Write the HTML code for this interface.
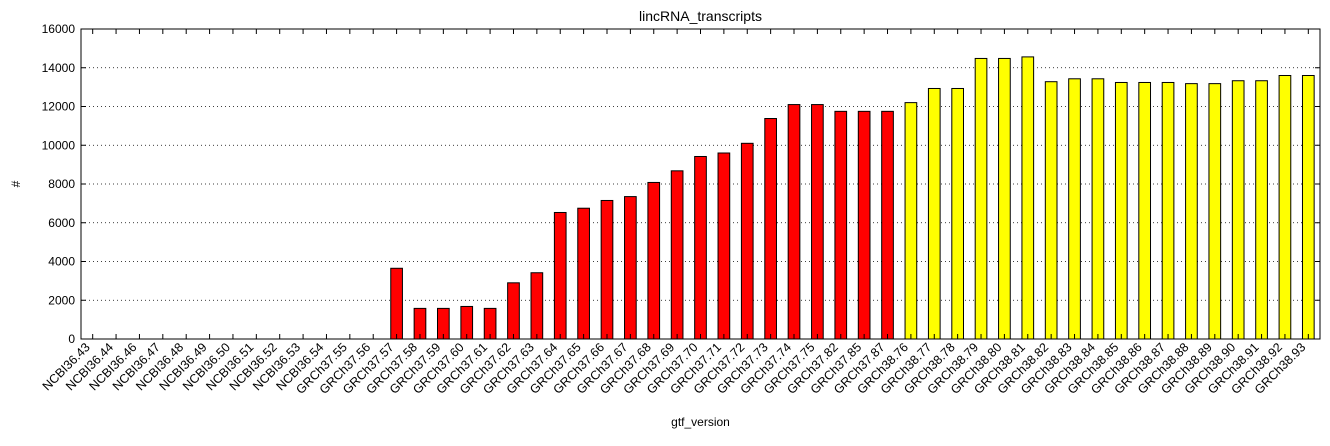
<!DOCTYPE html>
<html><head><meta charset="utf-8"><style>
body{margin:0;background:#fff;}
svg text{font-family:"Liberation Sans",sans-serif;}
</style></head><body>
<svg id="chart" width="1330" height="441" xmlns="http://www.w3.org/2000/svg"></svg>
<script>
const categories=["NCBI36.43","NCBI36.44","NCBI36.46","NCBI36.47","NCBI36.48","NCBI36.49","NCBI36.50","NCBI36.51","NCBI36.52","NCBI36.53","NCBI36.54","GRCh37.55","GRCh37.56","GRCh37.57","GRCh37.58","GRCh37.59","GRCh37.60","GRCh37.61","GRCh37.62","GRCh37.63","GRCh37.64","GRCh37.65","GRCh37.66","GRCh37.67","GRCh37.68","GRCh37.69","GRCh37.70","GRCh37.71","GRCh37.72","GRCh37.73","GRCh37.74","GRCh37.75","GRCh37.82","GRCh37.85","GRCh37.87","GRCh38.76","GRCh38.77","GRCh38.78","GRCh38.79","GRCh38.80","GRCh38.81","GRCh38.82","GRCh38.83","GRCh38.84","GRCh38.85","GRCh38.86","GRCh38.87","GRCh38.88","GRCh38.89","GRCh38.90","GRCh38.91","GRCh38.92","GRCh38.93"];
const values=[0,0,0,0,0,0,0,0,0,0,0,0,0,3650,1580,1580,1680,1580,2900,3420,6530,6750,7150,7350,8080,8680,9420,9600,10100,11380,12100,12100,11750,11750,11750,12200,12930,12930,14480,14480,14560,13280,13430,13430,13240,13240,13240,13180,13180,13330,13330,13600,13600];
const yTicks=[0,2000,4000,6000,8000,10000,12000,14000,16000];
const NS="http://www.w3.org/2000/svg";
const svg=document.getElementById('chart');
const L=81,R=1320,T=29,B=339,YMAX=16000;
const y=v=>B-(v/YMAX)*(B-T);
const step=(R-L)/categories.length;
const x=i=>L+step*(i+0.5);
function mk(tag,attrs,parent){const e=document.createElementNS(NS,tag);for(const k in attrs)e.setAttribute(k,attrs[k]);(parent||svg).appendChild(e);return e;}
yTicks.forEach(t=>{
  const g=mk('line',{x1:L,x2:R,y1:y(t),y2:y(t),stroke:'#000','stroke-width':0.8,'stroke-dasharray':'1,3'});
  
  
  mk('line',{x1:L,x2:L+5,y1:y(t),y2:y(t),stroke:'#000'});
  mk('line',{x1:R,x2:R-5,y1:y(t),y2:y(t),stroke:'#000'});
  const lb=mk('text',{x:L-6,y:y(t)+4,'text-anchor':'end','font-size':12});
  lb.textContent=t;
  
  
});
categories.forEach((c,i)=>{
  const v=values[i];
  const bw=step*0.5;
  const color=c.startsWith('GRCh38')?'#ffff00':'#ff0000';
  if(v>0){
    const r=mk('rect',{x:x(i)-bw/2,y:y(v),width:bw,height:B-y(v),fill:color,stroke:'#000','stroke-width':1});
    
    
  }
  mk('line',{x1:x(i),x2:x(i),y1:B,y2:B-5,stroke:'#000'});
  mk('line',{x1:x(i),x2:x(i),y1:T,y2:T+5,stroke:'#000'});
  const tx=x(i)-2,ty=B+9;
  const lb=mk('text',{x:tx,y:ty,'text-anchor':'end','font-size':12.5,transform:`rotate(-45 ${tx} ${ty})`});
  lb.textContent=c;
  
  
});
const f=mk('rect',{x:L,y:T,width:R-L,height:B-T,fill:'none',stroke:'#000','stroke-width':1});


const title=mk('text',{x:(L+R)/2,y:21,'text-anchor':'middle','font-size':14});
title.textContent='lincRNA_transcripts';


const xl=mk('text',{x:(L+R)/2,y:426,'text-anchor':'middle','font-size':12});
xl.textContent='gtf_version';


const yl=mk('text',{x:20,y:184,'text-anchor':'middle','font-size':12,transform:'rotate(-90 20 184)'});
yl.textContent='#';


</script>
</body></html>
